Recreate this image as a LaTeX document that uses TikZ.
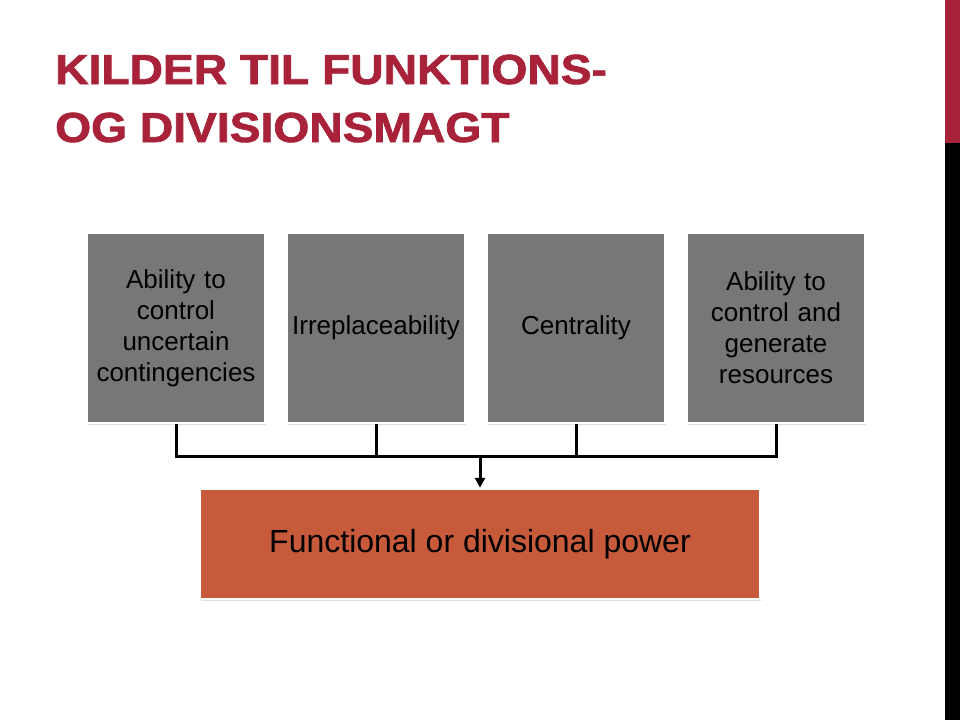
\documentclass[tikz,border=0pt]{standalone}
\usepackage{fontspec}
\setmainfont{Liberation Sans}
\usetikzlibrary{arrows.meta,shadows}
\definecolor{crimson}{HTML}{A8233A}
\definecolor{boxgray}{HTML}{777777}
\definecolor{powerred}{HTML}{C85A3C}
\begin{document}
\begin{tikzpicture}[x=1pt,y=-1pt,
  source/.style={draw=white,line width=2.5pt,fill=boxgray,minimum width=176pt,
    minimum height=190pt,align=center,text width=172pt,
    font=\fontsize{26}{31}\selectfont,
    drop shadow={opacity=0.25,shadow xshift=1pt,shadow yshift=-2pt}},
  result/.style={draw=white,line width=2.5pt,fill=powerred,minimum width=560pt,
    minimum height=110pt,font=\fontsize{32}{38}\selectfont,
    drop shadow={opacity=0.25,shadow xshift=1pt,shadow yshift=-2pt}},
  heading/.style={anchor=base west,text=crimson,inner sep=0pt,
    font=\fontsize{42}{48}\selectfont\bfseries\addfontfeature{FakeBold=1.6}},
  link/.style={line width=3pt}]
  \useasboundingbox[fill=white] (0,0) rectangle (960,720);
  % side bar
  \fill[crimson] (945,0) rectangle (960,143);
  \fill[black] (945,143) rectangle (960,720);
  % title
  \node[heading] (title1) at (55,84) {\scalebox{1.1}[1]{KILDER TIL FUNKTIONS-}};
  \node[heading] (title2) at (55,142) {\scalebox{1.1}[1]{OG DIVISIONSMAGT}};
  % sources
  \node[source] (control) at (176,328) {Ability to\\control\\uncertain\\contingencies};
  \node[source] (irrepl) at (376,328) {Irreplaceability};
  \node[source] (central) at (576,328) {Centrality};
  \node[source] (resources) at (776,328) {Ability to\\control and\\generate\\resources};
  % outcome
  \node[result] (power) at (480,544) {Functional or divisional power};
  % connectors
  \coordinate (join) at (480,456);
  \draw[link] (control.south) |- (join) -| (resources.south);
  \draw[link] (irrepl.south) -- (irrepl.south |- join);
  \draw[link] (central.south) -- (central.south |- join);
  \draw[link,-{Triangle[length=10pt,width=10pt]}] (join) -- (power.north);
\end{tikzpicture}
\end{document}
